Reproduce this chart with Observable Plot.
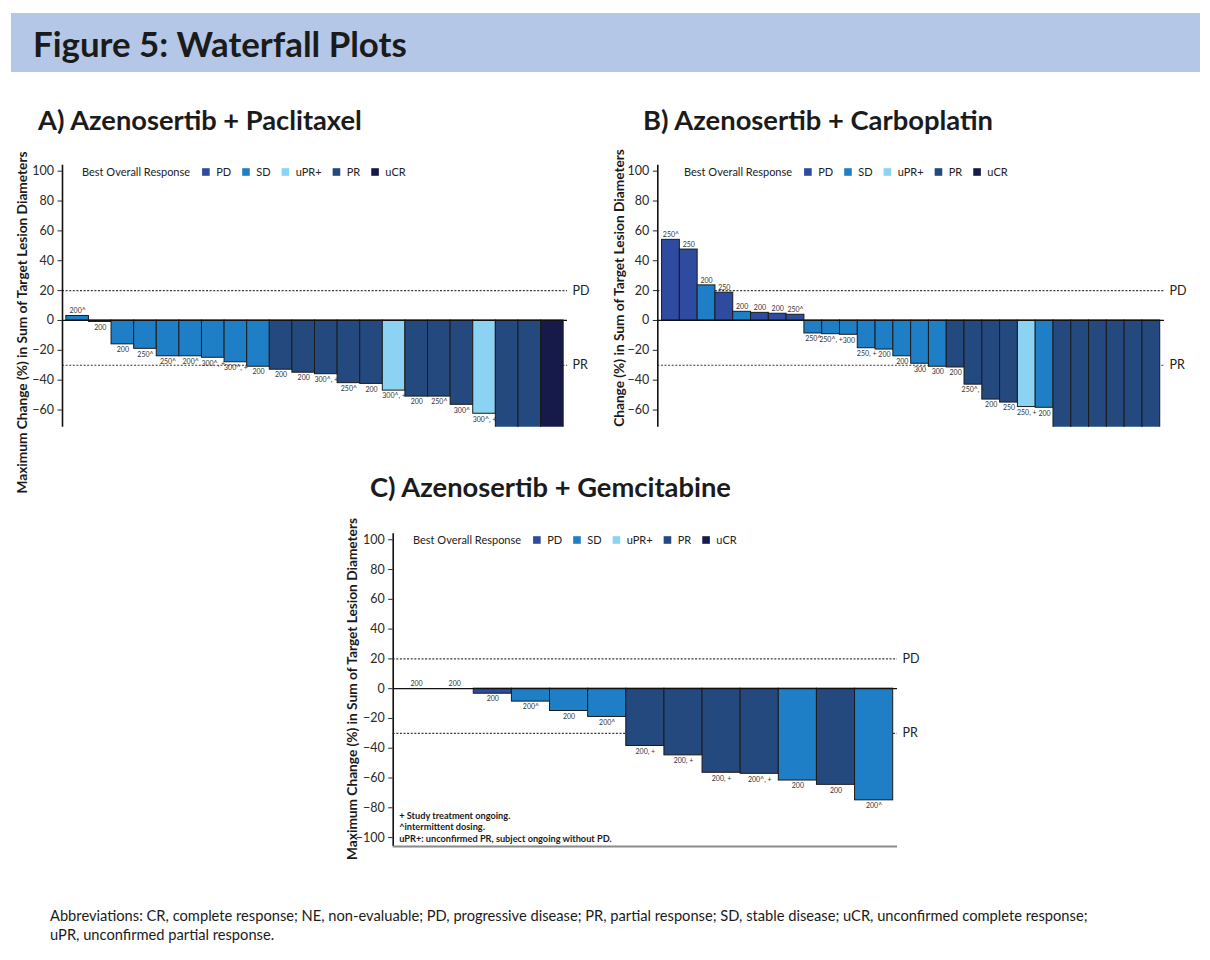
<!DOCTYPE html>
<html>
<head>
<meta charset="utf-8">
<script src="https://cdn.jsdelivr.net/npm/d3@7"></script>
<script src="https://cdn.jsdelivr.net/npm/@observablehq/plot@0.6"></script>
<style>
  html, body { margin: 0; padding: 0; background: #ffffff; }
  #page { position: relative; width: 1210px; height: 960px; overflow: hidden; font-family: Lato, "Open Sans", sans-serif; }
  #overlay { position: absolute; left: 0; top: 0; }
  .panel { position: absolute; }
</style>
</head>
<body>
<div id="page"></div>
<script>
// ---------- data ----------
const respDomain = ["PD", "SD", "uPR+", "PR", "uCR"];
const respColors = ["#2f4ba0", "#1f7fc6", "#8cd3f3", "#24497f", "#151a48"];

// Panel A: Azenosertib + Paclitaxel
const aValues = [3, -1, -16, -19, -24, -24, -25, -28, -31, -33, -35, -36, -42, -42.5, -47, -51, -51, -56.5, -62.5, -100, -100, -100];
const aResp = ["SD", "SD", "SD", "SD", "SD", "SD", "SD", "SD", "SD", "PR", "PR", "PR", "PR", "PR", "uPR+", "PR", "PR", "PR", "uPR+", "PR", "PR", "uCR"];
const aLabels = ["200^", "200", "200", "250^", "250^", "200^", "300^, +", "300^, +", "200", "200", "200", "300^, +", "250^", "200", "300^, +", "200", "250^", "300^", "300^, +", "", "", ""];

// Panel B: Azenosertib + Carboplatin
const bValues = [54, 47.5, 23.5, 18.6, 5.8, 5.1, 4.5, 3.8, -8.7, -9.2, -9.6, -18.6, -19.5, -24, -29, -31, -31.5, -43, -53, -55, -58, -58.5, -100, -100, -100, -100, -100, -100];
const bResp = ["PD", "PD", "SD", "PD", "SD", "PD", "PD", "PD", "SD", "SD", "SD", "SD", "SD", "SD", "SD", "SD", "PR", "PR", "PR", "PR", "uPR+", "SD", "PR", "PR", "PR", "PR", "PR", "PR"];
const bLabels = ["250^", "250", "200", "250", "200", "200", "200", "250^", "250^", "250^, +", "300", "250, +", "200", "200", "300", "300", "200", "250^, +", "200", "250", "250, +", "200", "", "", "", "", "", ""];

// Panel C: Azenosertib + Gemcitabine
const cValues = [0, 0, -3.4, -8.7, -15, -19, -38.5, -44.8, -56.5, -57.2, -61.7, -64.6, -75];
const cResp = ["SD", "SD", "PD", "SD", "SD", "SD", "PR", "PR", "PR", "PR", "SD", "PR", "SD"];
const cLabels = ["200", "200", "200", "200^", "200", "200^", "200, +", "200, +", "200, +", "200^, +", "200", "200", "200^"];

const yTicksAB = [-60, -40, -20, 0, 20, 40, 60, 80, 100];
const yTicksC = [-100, -80, -60, -40, -20, 0, 20, 40, 60, 80, 100];
const refLines = [20, -30];
const refNames = ["PD", "PR"];

const figTitle = "Figure 5: Waterfall Plots";
const panelTitles = ["A) Azenosertib + Paclitaxel", "B) Azenosertib + Carboplatin", "C) Azenosertib + Gemcitabine"];
const legendTitle = "Best Overall Response";
const yLabelFull = "Maximum Change (%) in Sum of Target Lesion Diameters";
const yLabelB = "Change (%) in Sum of Target Lesion Diameters";
const footnotes = ["+ Study treatment ongoing.", "^intermittent dosing.", "uPR+: unconfirmed PR, subject ongoing without PD."];
const abbrevLines = [
  "Abbreviations: CR, complete response; NE, non-evaluable; PD, progressive disease; PR, partial response; SD, stable disease; uCR, unconfirmed complete response;",
  "uPR, unconfirmed partial response."
];

// ---------- overlay (title band, titles, legends, abbreviations) ----------
const page = d3.select("#page");
const FONT = "Lato, 'Open Sans', sans-serif";
const ov = page.append("svg").attr("id", "overlay").attr("width", 1210).attr("height", 960)
  .style("font-family", FONT);

ov.append("rect").attr("x", 11).attr("y", 13).attr("width", 1189).attr("height", 59).attr("fill", "#b4c7e7");

function fitText(sel, target) {
  const w = sel.node().getComputedTextLength();
  const fs = parseFloat(sel.attr("font-size"));
  if (w > 0) sel.attr("font-size", (fs * target / w).toFixed(2));
  return sel;
}

fitText(ov.append("text").attr("x", 33).attr("y", 57).attr("font-size", 30).attr("font-weight", 700)
  .attr("fill", "#1b1b1b").text(figTitle), 374);

const titlePos = [[38, 130, 324], [643, 130, 350], [370, 497, 361]];
panelTitles.forEach((t, i) => {
  const [x, y, w] = titlePos[i];
  fitText(ov.append("text").attr("x", x).attr("y", y).attr("font-size", 25).attr("font-weight", 700)
    .attr("fill", "#1b1b1b").text(t), w);
});

function legend(x0, cy) {
  const g = ov.append("g").attr("font-size", 11).attr("fill", "#222");
  const t = g.append("text").attr("x", x0).attr("y", cy).attr("dy", "0.35em").text(legendTitle);
  let x = x0 + t.node().getComputedTextLength() + 12;
  respDomain.forEach((r, i) => {
    g.append("rect").attr("x", x).attr("y", cy - 3.8).attr("width", 7.6).attr("height", 7.6).attr("fill", respColors[i]);
    x += 7.6 + 6.5;
    const tt = g.append("text").attr("x", x).attr("y", cy).attr("dy", "0.35em").text(r);
    x += tt.node().getComputedTextLength() + 11;
  });
}
legend(82, 172);
legend(684, 172);
legend(413, 540);

const ab0 = ov.append("text").attr("x", 50).attr("y", 921).attr("font-size", 14).attr("fill", "#1b1b1b").text(abbrevLines[0]);
fitText(ab0, 1038);
ov.append("text").attr("x", 50).attr("y", 940).attr("font-size", ab0.attr("font-size")).attr("fill", "#1b1b1b").text(abbrevLines[1]);

// ---------- waterfall panels ----------
function waterfall(cfg) {
  const n = cfg.values.length;
  const rows = cfg.values.map((v, i) => ({i, v, r: cfg.resp[i], l: cfg.labels[i]}));
  const xd = [-cfg.po, n + cfg.po];
  const marks = [
    Plot.ruleY(refLines, {stroke: "#3a3a3a", strokeWidth: 1.1, strokeDasharray: "2,1.6"}),
    Plot.rect(rows, {x1: "i", x2: d => d.i + 1, y1: 0, y2: "v", fill: "r", stroke: "#1b1b1b", strokeWidth: 1, clip: true}),
    Plot.ruleY([0], {stroke: "#111", strokeWidth: 1.3}),
    Plot.ruleX([xd[0]], {stroke: "#111", strokeWidth: 1.6}),
    Plot.axisY({ticks: cfg.ticks, tickSize: 4.5, tickPadding: 4, fontSize: 12.5, color: "#2a2a2a", label: null}),
    Plot.text(rows.filter(d => d.l && d.v < 0), {x: d => d.i + 0.5, y: "v", text: "l", dy: 5.5, fontSize: 7, fill: "#333"}),
    Plot.text(rows.filter(d => d.l && d.v >= 0), {x: d => d.i + 0.5, y: "v", text: "l", dy: -5, fontSize: 7, fill: "#333"}),
    Plot.text(refLines, {y: d => d, text: (d, i) => refNames[i], frameAnchor: "right", textAnchor: "start", dx: 5, fontSize: 12.5, fill: "#222"}),
    Plot.text([cfg.ylabel], {text: d => d, frameAnchor: "left", textAnchor: "middle", lineAnchor: "middle", rotate: -90, dx: cfg.ldx, dy: cfg.ldy, fontSize: 13.7, fontWeight: "bold", fill: "#1a1a1a"})
  ];
  if (cfg.bottomLine) marks.push(Plot.ruleY([cfg.yDomain[0]], {stroke: "#8a8a8a", strokeWidth: 2}));
  if (cfg.footnotes) marks.push(Plot.text([cfg.footnotes.join("\n")], {text: d => d, frameAnchor: "bottom-left", textAnchor: "start", lineAnchor: "bottom", lineHeight: 1.25, dx: 6, dy: -5, fontSize: 9.2, fontWeight: "bold", fill: "#1a1a1a"}));
  const svg = Plot.plot({
    width: cfg.width, height: cfg.height,
    marginLeft: cfg.ml, marginRight: cfg.mr, marginTop: cfg.mt, marginBottom: cfg.mb,
    x: {domain: xd, axis: null},
    y: {domain: cfg.yDomain},
    color: {domain: respDomain, range: respColors},
    style: {background: "transparent", fontFamily: FONT, overflow: "visible"},
    marks
  });
  const div = page.append("div").attr("class", "panel")
    .style("left", cfg.left + "px").style("top", cfg.top + "px");
  div.node().appendChild(svg);
}

waterfall({values: aValues, resp: aResp, labels: aLabels, ticks: yTicksAB, yDomain: [-71.5, 104],
  left: 0, top: 150, width: 600, height: 350, ml: 62, mr: 33, mt: 14.7, mb: 73.3, po: 0.17,
  ylabel: yLabelFull, ldx: -40, ldy: 26.3});

waterfall({values: bValues, resp: bResp, labels: bLabels, ticks: yTicksAB, yDomain: [-71.5, 104],
  left: 595, top: 150, width: 610, height: 350, ml: 62.3, mr: 41, mt: 14.7, mb: 73.3, po: 0.24,
  ylabel: yLabelB, ldx: -38.3, ldy: -8.2});

waterfall({values: cValues, resp: cResp, labels: cLabels, ticks: yTicksC, yDomain: [-106, 104],
  left: 330, top: 505, width: 600, height: 365, ml: 62.7, mr: 33, mt: 28.3, mb: 24, po: 0.113,
  ylabel: yLabelFull, ldx: -40.7, ldy: -1.2, bottomLine: true, footnotes: footnotes});
</script>
</body>
</html>
